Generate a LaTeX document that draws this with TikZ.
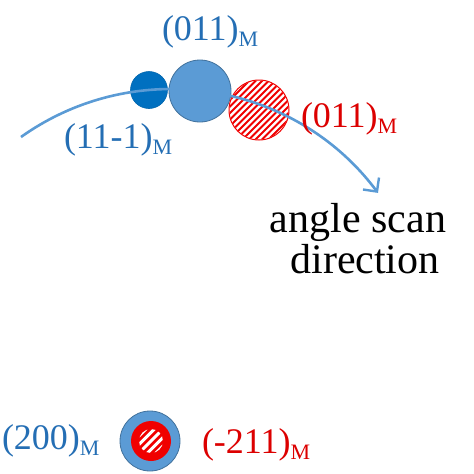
\documentclass[tikz,border=0pt]{standalone}
\usepackage{fontspec}
\setmainfont{Liberation Serif}
\usetikzlibrary{arrows.meta}
\definecolor{lblue}{RGB}{91,155,213}
\definecolor{lbedge}{RGB}{65,113,156}
\definecolor{dblue}{RGB}{0,112,192}
\definecolor{tblue}{RGB}{36,110,180}
\definecolor{hred}{RGB}{240,0,0}
\definecolor{tred}{RGB}{220,0,0}
\newcommand{\lbl}[2]{\fontsize{36}{40}\selectfont #1\raisebox{-6pt}{\fontsize{22}{22}\selectfont #2}}
\begin{document}
\begin{tikzpicture}[x=1pt,y=-1pt,
  lab/.style={anchor=base west,inner sep=0pt,outer sep=0pt},
  scantext/.style={anchor=base,inner sep=0pt,font=\fontsize{42}{42}\selectfont},
  dot/.style={circle,inner sep=0pt,outer sep=0pt}]
\useasboundingbox (0,0) rectangle (474,474);
% circles
\node[dot,fill=dblue,draw=dblue!90!black,line width=0.6pt,minimum size=37pt] (small) at (149,90) {};
\node[dot,fill=lblue,draw=lbedge,line width=0.8pt,minimum size=62pt] (big) at (200,91) {};
\node[dot,draw=hred,line width=1pt,minimum size=60pt] (hatch) at (259,110) {};
\begin{scope}
  \clip (259,110) circle (29.5pt);
  \foreach \k in {-14,...,14}{
    \draw[hred,line width=2pt] (259+\k*6.5-40,150) -- (259+\k*6.5+40,70);
  }
\end{scope}
% arc
\coordinate (scanstart) at (21,137);
\draw[lblue,line width=2.6pt,-{Straight Barb[length=10pt,width=20pt,line width=2.4pt]}]
  (scanstart) arc[start angle=234.6,end angle=323.2,radius=258.7];
% labels
\node[lab,text=tblue] (l011) at (162,40) {\lbl{(011)}{M}};
\node[lab,text=tblue] (l111) at (64,148) {\lbl{(11-1)}{M}};
\node[lab,text=tred] (r011) at (301,127) {\lbl{(011)}{M}};
\node[scantext] (scan1) at (358,232) {angle scan};
\node[scantext] (scan2) at (365,273) {direction};
% bottom
\node[dot,fill=lblue,draw=lbedge,line width=0.8pt,minimum size=60pt] (outer) at (150,441) {};
\node[dot,fill=hred,minimum size=40pt] (inner) at (151,441) {};
\begin{scope}
  \clip (151,441) circle (12pt);
  \foreach \k in {-4,...,4}{
    \draw[white,line width=3pt] (151+\k*8.5-20,461) -- (151+\k*8.5+20,421);
  }
\end{scope}
\node[lab,text=tblue] (l200) at (2,449) {\lbl{(200)}{M}};
\node[lab,text=tred] (l211) at (202,453) {\lbl{(-211)}{M}};
\end{tikzpicture}
\end{document}
